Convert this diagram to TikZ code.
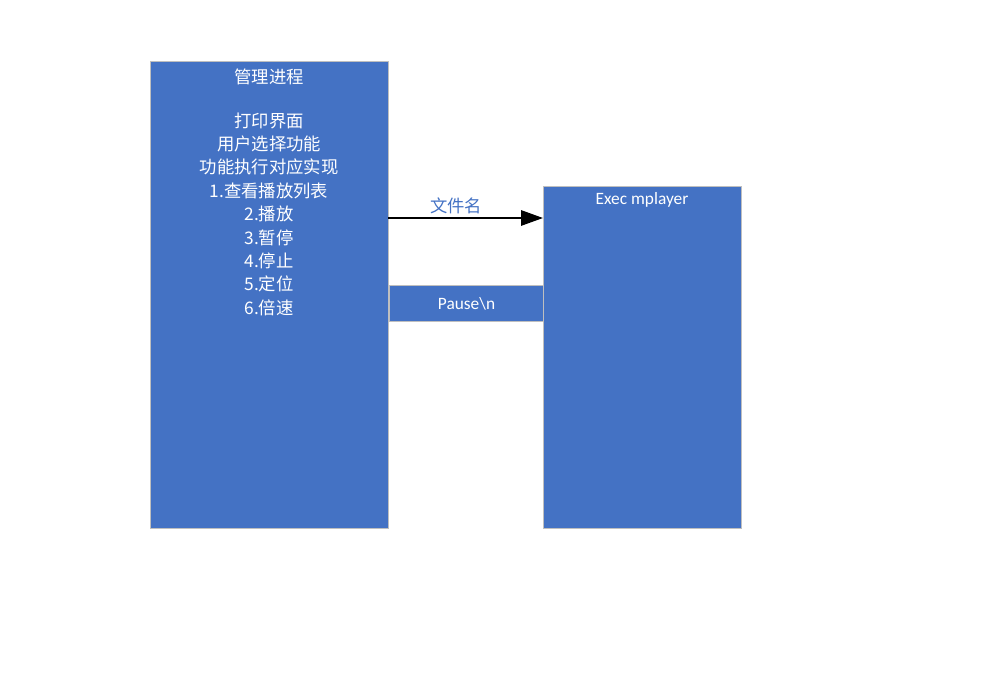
\documentclass[tikz,border=0pt]{standalone}
\usepackage{fontspec}
\setmainfont{Carlito}
\newfontfamily\cjk{Noto Sans CJK SC}
\usetikzlibrary{arrows.meta}
\definecolor{boxblue}{HTML}{4472C4}
\definecolor{boxedge}{HTML}{BFBFBF}
\tikzset{
  procbox/.style={draw=boxedge, line width=0.75pt, fill=boxblue, inner sep=0pt, anchor=north west},
  boxtext/.style={text=white, align=center, inner sep=0pt, font=\cjk\fontsize{13pt}{17.55pt}\selectfont},
  latintext/.style={text=white, inner sep=0pt, font=\fontsize{13pt}{15pt}\selectfont},
  flowarrow/.style={-{Triangle[length=16.5pt,width=11.5pt]}, line width=1.5pt, black},
  arrowlabel/.style={text=boxblue, inner sep=0pt, font=\cjk\fontsize{13pt}{15pt}\selectfont}
}
\begin{document}
\begin{tikzpicture}[x=0.75pt, y=-0.75pt]
\useasboundingbox (0,0) rectangle (1006,680);
% boxes
\node[procbox, minimum width=238*0.75pt, minimum height=467*0.75pt] (mgr) at (150,61) {};
\node[procbox, minimum width=198*0.75pt, minimum height=342*0.75pt] (exec) at (543,186) {};
\node[procbox, minimum width=154*0.75pt, minimum height=36*0.75pt] (pause) at (389,285) {};
% texts
\node[boxtext, anchor=north] (mgrtext) at (269,68.5) {管理进程\\[15.3pt]打印界面\\用户选择功能\\功能执行对应实现\\1.查看播放列表\\2.播放\\3.暂停\\4.停止\\5.定位\\6.倍速};
\node[latintext] (exectext) at (642,200) {Exec mplayer};
\node[latintext] (pausetext) at (pause.center) {Pause\textbackslash n};
% arrow
\coordinate (a1) at (388,218);
\coordinate (a2) at (543,218);
\draw[flowarrow] (a1) -- (a2);
\node[arrowlabel] (fname) at (456,206) {文件名};
\end{tikzpicture}
\end{document}
